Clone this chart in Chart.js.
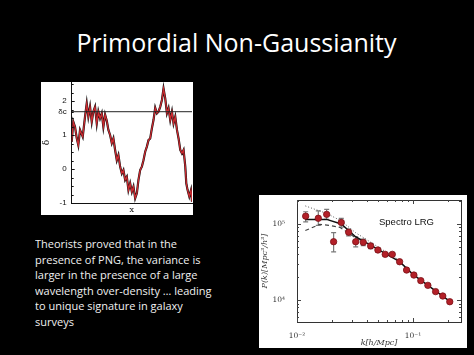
<!DOCTYPE html>
<html><head><meta charset="utf-8">
<script src="https://cdn.jsdelivr.net/npm/chart.js@4"></script>
<style>
html,body{margin:0;padding:0;background:#000;width:474px;height:355px;overflow:hidden;}
#title{position:absolute;left:0;top:30px;width:473px;text-align:center;font-family:"Open Sans";font-size:25px;line-height:25px;color:#fff;white-space:nowrap}
#title span{display:inline-block;transform-origin:50% 50%}
#body{position:absolute;left:35px;top:236px;font-family:"Open Sans";font-size:11px;line-height:15.6px;color:#f0f0f0;white-space:nowrap;transform-origin:0 0}
.box{position:absolute;background:#fff}
#leftBox{left:41px;top:82px;width:152px;height:133px}
#rightBox{left:259px;top:195px;width:208px;height:153px}
#lrg{position:absolute;left:379px;top:216px;font-family:"Liberation Sans";font-size:9.5px;line-height:12px;color:#111;white-space:nowrap}
</style></head>
<body>
<div id="title"><span id="tspan">Primordial Non-Gaussianity</span></div>
<div class="box" id="leftBox"><canvas id="c1" width="152" height="133"></canvas></div>
<div class="box" id="rightBox"><canvas id="c2" width="208" height="153"></canvas></div>
<div id="lrg">Spectro LRG</div>
<div id="body">
<div>Theorists proved that in the</div>
<div>presence of PNG, the variance is</div>
<div>larger in the presence of a large</div>
<div id="l4">wavelength over-density … leading</div>
<div>to unique signature in galaxy</div>
<div>surveys</div>
</div>
<script>
// ---- Left panel: density field delta(x) ----
const leftX = [0,1.6,3.3,5.0,6.6,8.3,11.0,13.3,15.0,16.6,18.3,20.0,21.6,23.3,25.0,26.6,28.3,30.0,31.6,33.3,35.0,36.6,38.3,40.0,41.6,43.3,45.0,46.6,48.3,50.0,51.6,53.3,55.0,56.6,58.3,60.0,61.6,63.3,65.0,66.6,68.3,70.0,71.6,73.3,75.0,76.6,78.3,80.0,81.6,83.3,85.0,86.6,88.3,90.0,91.6,93.3,95.0,96.6,98.3,100.0,101.6,103.3,105.0,106.6,108.3,110.0,111.6,113.3,114.3,115.6,117.3,119.0,120.0];
const leftDelta = [0.8,1.39,1.24,0.91,0.7,1.15,0.95,1.54,1.93,1.54,1.83,1.39,1.69,1.83,1.34,1.69,1.49,1.64,1.24,1.6,1.42,1.15,1.0,0.76,0.9,0.56,0.26,0.41,0.07,-0.13,-0.03,-0.32,-0.23,-0.62,-0.42,-0.67,-0.52,-0.86,-0.71,-0.32,-0.03,0.07,0.26,0.51,0.66,0.85,0.9,1.2,1.44,1.8,1.64,1.69,1.83,2.03,2.37,2.08,1.64,1.79,1.44,1.69,1.34,1.54,1.15,0.9,0.56,0.46,0.56,0.07,-0.42,-0.62,-0.81,-0.62,-0.96];
const DELTA_C = 1.686;
const leftTickValues = [-1,-0.75,-0.5,-0.25,0,0.25,0.5,0.75,1,1.25,1.5,DELTA_C,1.75,2,2.25,2.5];
const leftTickLabels = {'-1':'-1','0':'0','1':'1','2':'2'};
leftTickLabels[String(DELTA_C)] = 'δc';

// ---- Right panel: P(k) Spectro LRG ----
const kData = [0.01188,0.01527,0.01803,0.0207,0.0241,0.0279,0.0321,0.0373,0.0432,0.0499,0.0577,0.0664,0.0768,0.0882,0.102,0.117,0.1346,0.157,0.181,0.208];
const pData = [1.27e5,1.19e5,1.34e5,5.85e4,1.05e5,7.8e4,5.85e4,5.74e4,5.15e4,4.55e4,3.99e4,3.99e4,3.19e4,2.48e4,2.13e4,1.80e4,1.56e4,1.29e4,1.13e4,9.5e3];
const pLow  = [1.07e5,9.6e4,1.15e5,4.3e4,9.1e4,7.0e4,5.0e4,5.2e4,4.75e4,4.25e4,3.75e4,3.8e4,3.05e4,2.38e4,2.05e4,1.74e4,1.51e4,1.25e4,1.10e4,9.2e3];
const pHigh = [1.45e5,1.49e5,1.56e5,7.7e4,1.19e5,8.6e4,6.8e4,6.35e4,5.55e4,4.85e4,4.2e4,4.2e4,3.33e4,2.58e4,2.21e4,1.86e4,1.61e4,1.33e4,1.16e4,9.8e3];
const solidK = [0.0118,0.015,0.018,0.0241,0.032,0.05,0.0768,0.1,0.21];
const solidP = [1.15e5,1.15e5,1.15e5,1.0e5,6.8e4,4.64e4,3.2e4,2.18e4,9.5e3];
const dashK = [0.0118,0.0157,0.019,0.0236,0.032,0.05];
const dashP = [8.2e4,9.9e4,9.6e4,9.0e4,6.6e4,4.6e4];
const dotK = [0.0118,0.018,0.024,0.032,0.05,0.08];
const dotP = [1.73e5,1.38e5,1.1e5,7.7e4,5.0e4,3.2e4];
const rightXTicks = [0.01,0.02,0.03,0.04,0.05,0.06,0.07,0.08,0.09,0.1,0.2];
const rightYTicks = [6e3,7e3,8e3,9e3,1e4,2e4,3e4,4e4,5e4,6e4,7e4,8e4,9e4,1e5,2e5];
const rightTickLabels = {'0.01':'10⁻²','0.1':'10⁻¹','10000':'10⁴','100000':'10⁵'};

const pts = (xs, ys) => xs.map((x, i) => ({x: x, y: ys[i]}));

// inward tick marks plugin
function makeTicksPlugin(id, sides, isMajor, majorLen, minorLen, color) {
  return {
    id: id,
    afterDraw(chart) {
      const {ctx, chartArea: a} = chart;
      ctx.save();
      ctx.strokeStyle = color; ctx.lineWidth = 1;
      const xs = chart.scales.x, ys = chart.scales.y;
      ctx.beginPath();
      if (sides.includes('b') || sides.includes('t')) xs.ticks.forEach(t => {
        const p = Math.round(xs.getPixelForValue(t.value)) + 0.5;
        const L = isMajor(t.value) ? majorLen : minorLen;
        if (sides.includes('b')) { ctx.moveTo(p, a.bottom); ctx.lineTo(p, a.bottom - L); }
        if (sides.includes('t')) { ctx.moveTo(p, a.top); ctx.lineTo(p, a.top + L); }
      });
      if (sides.includes('l') || sides.includes('r')) ys.ticks.forEach(t => {
        const p = Math.round(ys.getPixelForValue(t.value)) + 0.5;
        const L = isMajor(t.value) ? majorLen : minorLen;
        if (sides.includes('l')) { ctx.moveTo(a.left, p); ctx.lineTo(a.left + L, p); }
        if (sides.includes('r')) { ctx.moveTo(a.right, p); ctx.lineTo(a.right - L, p); }
      });
      ctx.stroke();
      ctx.restore();
    }
  };
}

const frame = {
  id: 'frame',
  afterDraw(chart) {
    const {ctx, chartArea: a} = chart;
    ctx.save(); ctx.strokeStyle = '#333'; ctx.lineWidth = 1;
    ctx.strokeRect(Math.round(a.left) + 0.5, Math.round(a.top) + 0.5, Math.round(a.right - a.left), Math.round(a.bottom - a.top));
    ctx.restore();
  }
};

const errorBars = {
  id: 'errorBars',
  beforeDatasetsDraw(chart) {
    const {ctx} = chart;
    const xs = chart.scales.x, ys = chart.scales.y;
    ctx.save(); ctx.strokeStyle = '#7a7a7a'; ctx.lineWidth = 1.2;
    kData.forEach((k, i) => {
      const px = xs.getPixelForValue(k);
      const y1 = ys.getPixelForValue(pLow[i]), y2 = ys.getPixelForValue(pHigh[i]);
      ctx.beginPath();
      ctx.moveTo(px, y1); ctx.lineTo(px, y2);
      ctx.moveTo(px - 2.5, y1); ctx.lineTo(px + 2.5, y1);
      ctx.moveTo(px - 2.5, y2); ctx.lineTo(px + 2.5, y2);
      ctx.stroke();
    });
    ctx.restore();
  }
};

Chart.defaults.animation = false;
Chart.defaults.responsive = false;

new Chart(document.getElementById('c1'), {
  type: 'line',
  data: {
    datasets: [
      {data: [{x: 0, y: DELTA_C}, {x: 120, y: DELTA_C}], borderColor: '#222', borderWidth: 1, pointRadius: 0, order: 0},
      {data: pts(leftX, leftDelta), borderColor: '#cc2a30', borderWidth: 1.3, pointRadius: 0, tension: 0, order: 1},
      {data: pts(leftX, leftDelta), borderColor: '#111', borderWidth: 2.2, pointRadius: 0, tension: 0, order: 2}
    ]
  },
  options: {
    layout: {padding: {left: 0, right: 1, top: 0, bottom: 0}},
    plugins: {legend: {display: false}, tooltip: {enabled: false}},
    scales: {
      x: {
        type: 'linear', min: 0, max: 120,
        ticks: {display: false},
        grid: {display: false},
        border: {display: true, color: '#111', width: 1},
        title: {display: true, text: 'x', font: {family: 'DejaVu Serif', size: 8}, color: '#111', padding: 0},
        afterFit(s) { s.height = 12; s.paddingLeft = 0; s.paddingRight = 0; }
      },
      y: {
        type: 'linear', min: -1, max: 2.56,
        afterBuildTicks(s) { s.ticks = leftTickValues.map(v => ({value: v})); },
        ticks: {
          autoSkip: false, padding: 5, color: '#111',
          font: {family: 'Liberation Sans', size: 8},
          callback: v => leftTickLabels[String(v)] || ''
        },
        grid: {display: true, drawOnChartArea: false, drawTicks: false, color: '#111'},
        border: {display: true, color: '#111', width: 1},
        title: {display: true, text: 'δ', font: {family: 'DejaVu Serif', size: 9}, color: '#111', padding: 0},
        afterFit(s) { s.width = 30.7; s.paddingTop = 0; s.paddingBottom = 0; }
      }
    }
  },
  plugins: [makeTicksPlugin('lt', ['l'], v => Number.isInteger(v), 3, 2, '#111')]
});

const isPow10 = v => Math.abs(Math.log10(v) - Math.round(Math.log10(v))) < 1e-6;

new Chart(document.getElementById('c2'), {
  type: 'scatter',
  data: {
    datasets: [
      {type: 'line', data: pts(dotK, dotP), borderColor: '#555', borderWidth: 1, borderDash: [1, 2], pointRadius: 0, order: 3},
      {type: 'line', data: pts(dashK, dashP), borderColor: '#444', borderWidth: 1.1, borderDash: [4, 3], pointRadius: 0, order: 2},
      {type: 'line', data: pts(solidK, solidP), borderColor: '#111', borderWidth: 1.5, pointRadius: 0, order: 1},
      {data: pts(kData, pData), pointRadius: 3.2, backgroundColor: '#b32028', borderColor: '#7a1016', borderWidth: 0.8, order: 0}
    ]
  },
  options: {
    layout: {padding: {left: 0, right: 6, top: 5, bottom: 0}},
    plugins: {legend: {display: false}, tooltip: {enabled: false}},
    scales: {
      x: {
        type: 'logarithmic', min: 0.01, max: 0.26,
        afterBuildTicks(s) { s.ticks = rightXTicks.map(v => ({value: v})); },
        ticks: {autoSkip: false, maxRotation: 0, padding: 2, color: '#333',
          font: {family: 'DejaVu Serif', size: 7.5},
          callback: v => rightTickLabels[String(v)] || ''},
        grid: {display: false},
        border: {display: true, color: '#333'},
        title: {display: true, text: 'k[h/Mpc]', font: {family: 'DejaVu Serif', size: 8, style: 'italic'}, color: '#333', padding: 0},
        afterFit(s) { s.height = 26; s.paddingLeft = 0; s.paddingRight = 0; }
      },
      y: {
        type: 'logarithmic', min: 5140, max: 2.07e5,
        afterBuildTicks(s) { s.ticks = rightYTicks.map(v => ({value: v})); },
        ticks: {autoSkip: false, padding: 4, color: '#333',
          font: {family: 'DejaVu Serif', size: 7.5},
          callback: v => rightTickLabels[String(v)] || ''},
        grid: {display: false},
        border: {display: true, color: '#333'},
        title: {display: true, text: 'P(k)[Mpc³/h³]', font: {family: 'DejaVu Serif', size: 8, style: 'italic'}, color: '#333', padding: 1},
        afterFit(s) { s.width = 38; s.paddingTop = 0; s.paddingBottom = 0; }
      }
    }
  },
  plugins: [errorBars, frame, makeTicksPlugin('rt', ['l', 'r', 'b', 't'], isPow10, 4, 2, '#444')]
});

function fitText() {
  const t = document.getElementById('tspan');
  t.style.transform = 'scaleX(' + (319 / t.getBoundingClientRect().width) + ')';
  const l4 = document.getElementById('l4');
  const r = document.createRange(); r.selectNodeContents(l4);
  const w = r.getBoundingClientRect().width;
  document.getElementById('body').style.transform = 'scaleX(' + (186 / w) + ')';
}
fitText();
if (document.fonts && document.fonts.ready) document.fonts.ready.then(fitText);
</script>
</body></html>
